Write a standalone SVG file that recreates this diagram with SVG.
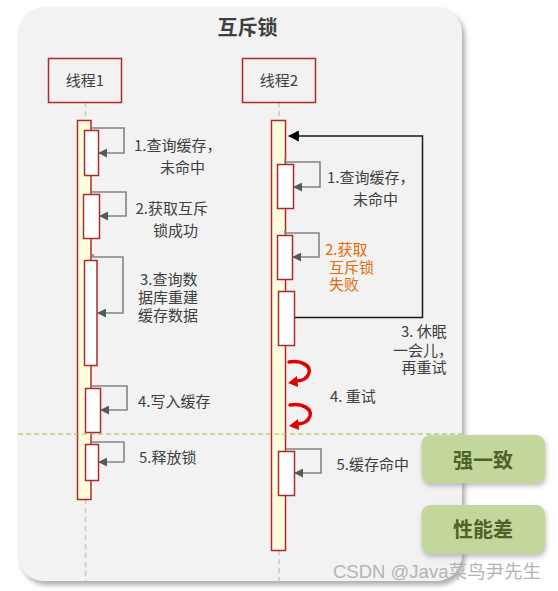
<svg xmlns="http://www.w3.org/2000/svg" width="558" height="591" viewBox="0 0 558 591">
<defs>
<style>
.t{font-family:"Noto Sans CJK SC","Noto Sans",sans-serif;font-size:15px;fill:#404040}
.o{fill:#e36c0a}
.box{fill:none;stroke:#b02a2a;stroke-width:1.5}
.bar{fill:#ffffe0;stroke:#b02a2a;stroke-width:1.5}
.act{fill:#ffffff;stroke:#b02a2a;stroke-width:1.5}
.life{stroke:#c8c8c8;stroke-width:1.5;stroke-dasharray:5 4;fill:none}
.self{fill:none;stroke:#808585;stroke-width:1.6;marker-end:url(#ah)}
.gb{fill:#c3d69b;filter:url(#sh2)}
.gt{font-family:"Noto Sans CJK SC",sans-serif;font-size:20px;font-weight:bold;fill:#4f6228;text-anchor:middle}
.red{fill:none;stroke:#e00000;stroke-width:3.5;stroke-linecap:round}
</style>
<marker id="ah" viewBox="0 0 10 10" refX="9" refY="5" markerWidth="9" markerHeight="9" markerUnits="userSpaceOnUse" orient="auto">
<path d="M0,0 L10,5 L0,10 z" fill="#555a5a"/>
</marker>
<marker id="bh" viewBox="0 0 10 10" refX="9" refY="5" markerWidth="11" markerHeight="11" markerUnits="userSpaceOnUse" orient="auto">
<path d="M0,0 L10,5 L0,10 z" fill="#000"/>
</marker>
<filter id="sh" x="-5%" y="-5%" width="112%" height="112%">
<feDropShadow dx="3" dy="4" stdDeviation="2.5" flood-color="#777" flood-opacity="0.6"/>
</filter>
<filter id="sh2" x="-10%" y="-10%" width="125%" height="135%">
<feDropShadow dx="1" dy="3" stdDeviation="2.5" flood-color="#888" flood-opacity="0.55"/>
</filter>
</defs>
<rect width="558" height="591" fill="#ffffff"/>
<rect id="panel" x="18" y="7" width="444" height="574" rx="26" ry="26" fill="#f2f2f2" filter="url(#sh)"/>
<text class="t" x="247.5" y="35" text-anchor="middle" style="font-size:20px;font-weight:bold;fill:#3f3f3f">互斥锁</text>

<g id="lifelines">
<path class="life" d="M85.5,102 V120 M85.5,499 V581 M279,102 V120 M279,550 V584"/>
</g>

<g id="thread1">
<rect class="box" x="48.5" y="58.5" width="73" height="44"/>
<text class="t" x="85" y="86" text-anchor="middle">线程1</text>
</g>
<g id="thread2">
<rect class="box" x="242.5" y="58.5" width="73" height="44"/>
<text class="t" x="279" y="86" text-anchor="middle">线程2</text>
</g>

<g id="bar1">
<rect class="bar" x="77.5" y="120.5" width="13.5" height="379"/>
<rect class="act" x="84.5" y="130.5" width="14" height="45"/>
<rect class="act" x="83.5" y="194.5" width="16" height="44"/>
<rect class="act" x="84.5" y="260.5" width="12.5" height="105"/>
<rect class="act" x="85.5" y="388.5" width="15" height="44"/>
<rect class="act" x="85.5" y="444.5" width="13" height="36"/>
</g>
<g id="bar2">
<rect class="bar" x="271.5" y="120.5" width="14" height="430"/>
<rect class="act" x="277.5" y="164.5" width="16" height="44"/>
<rect class="act" x="277.5" y="235.5" width="15" height="44"/>
<rect class="act" x="278.5" y="291.5" width="16" height="54"/>
<rect class="act" x="278.5" y="451.5" width="16" height="44"/>
</g>

<g id="connectors">
<path class="self" d="M91,128 H124 V153 H99"/>
<path class="self" d="M91,192 H126 V216 H100"/>
<path class="self" d="M93,254 V257 H123 V313 H98"/>
<path class="self" d="M91,386 H127 V410 H101"/>
<path class="self" d="M91,442 H124 V462 H99"/>
<path class="self" d="M285,159 V162 H320 V187 H294"/>
<path class="self" d="M285,230 V233 H319 V257 H293"/>
<path class="self" d="M286,449 H321 V473 H295"/>
<path d="M295,317.5 H422.5 V136 H289" fill="none" stroke="#1a1a1a" stroke-width="1.5" marker-end="url(#bh)"/>
<path class="red" d="M289,362 C302,360 311,366 309,373 C307,379 302,381 296,381"/>
<polygon points="288,383 297,376 298,387" fill="#e00000"/>
<path class="red" d="M290,405 C303,403 312,409 310,416 C308,422 303,424 297,424"/>
<polygon points="289,426 298,419 299,430" fill="#e00000"/>
</g>

<line x1="18" y1="434" x2="462" y2="434" stroke="#9bbb59" stroke-width="1.2" stroke-dasharray="5 3"/>

<g id="labels1">
<text class="t"><tspan x="134" y="151">1.查询缓存，</tspan><tspan x="160" y="173">未命中</tspan></text>
<text class="t"><tspan x="135.5" y="214">2.获取互斥</tspan><tspan x="153" y="235.5">锁成功</tspan></text>
<text class="t"><tspan x="140" y="284.5">3.查询数</tspan><tspan x="138" y="302.5">据库重建</tspan><tspan x="138" y="320.5">缓存数据</tspan></text>
<text class="t" x="138" y="407">4.写入缓存</text>
<text class="t" x="139" y="463">5.释放锁</text>
</g>
<g id="labels2">
<text class="t"><tspan x="327" y="183">1.查询缓存，</tspan><tspan x="353" y="205">未命中</tspan></text>
<text class="t o"><tspan x="325" y="255">2.获取</tspan><tspan x="329" y="272.5">互斥锁</tspan><tspan x="329" y="290">失败</tspan></text>
<text class="t"><tspan x="401" y="337">3. 休眠</tspan><tspan x="393" y="355.5">一会儿，</tspan><tspan x="401.5" y="373">再重试</tspan></text>
<text class="t" x="330" y="402">4. 重试</text>
<text class="t" x="336.5" y="470">5.缓存命中</text>
</g>

<g id="tag1">
<rect class="gb" x="421.5" y="435" width="123.5" height="48" rx="9"/>
<text class="gt" x="483" y="468">强一致</text>
</g>
<g id="tag2">
<rect class="gb" x="421.5" y="505" width="123.5" height="49" rx="9"/>
<text class="gt" x="483" y="537">性能差</text>
</g>

<text x="333" y="578" style="font-family:'Liberation Sans','Noto Sans CJK SC',sans-serif;font-size:18.5px;fill:#b4b4b4">CSDN @Java菜鸟尹先生</text>
</svg>
